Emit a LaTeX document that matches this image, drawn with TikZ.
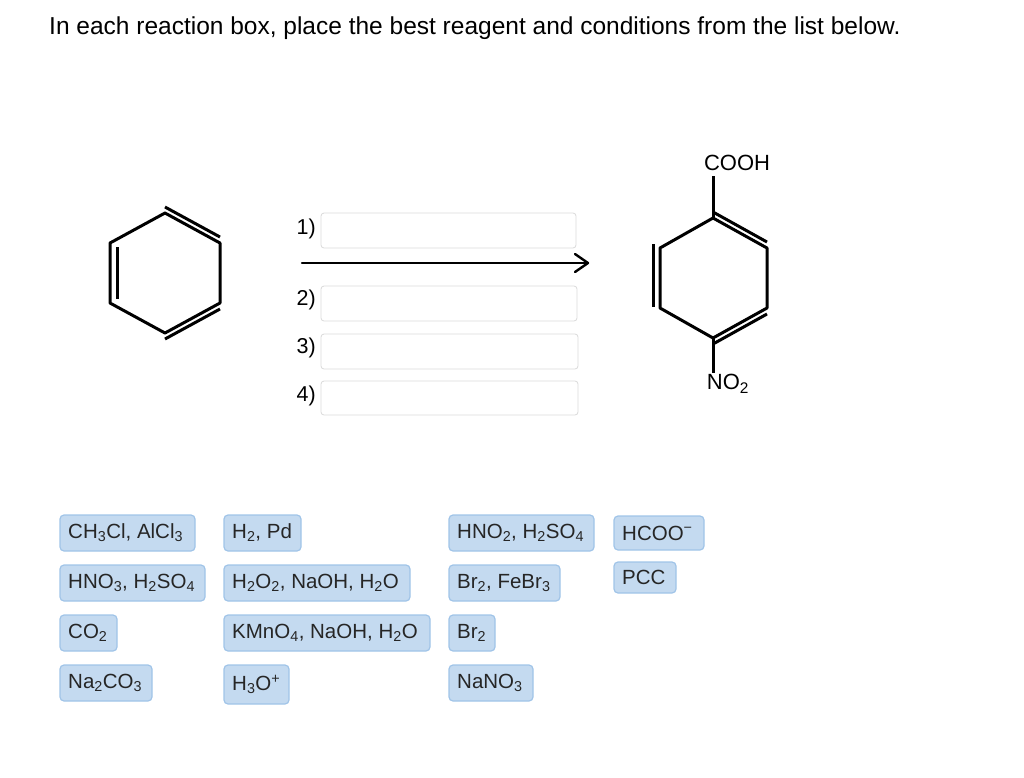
\documentclass[tikz,border=0pt]{standalone}
\usepackage{fontspec}
\setmainfont{Liberation Sans}
\definecolor{tilefill}{RGB}{196,218,240}
\definecolor{tileline}{RGB}{160,196,232}
\newcommand{\mytile}[6]{\draw[tile] (#1,#2) rectangle (#3,#4); \node[tt] (#5) at (#1+8,{(#2+#4)/2}) {#6};}
\begin{document}
\begin{tikzpicture}[x=1pt,y=-1pt,
  bond/.style={line width=3pt},
  ansbox/.style={draw=black!15,rounded corners=3pt,line width=0.8pt},
  tile/.style={draw=tileline,fill=tilefill,rounded corners=4pt,line width=1.2pt},
  tt/.style={anchor=west,font=\fontsize{20.5}{22}\selectfont,inner sep=0pt,text=black!85}]
\useasboundingbox (0,0) rectangle (1024,777);
\node[anchor=west,inner sep=0pt,font=\fontsize{24.5}{27}\selectfont] (title) at (49,28) {In each reaction box, place the best reagent and conditions from the list below.};
% benzene
\foreach \n/\px/\py in {a/165/213,b/220/243,c/220/303,d/165/333,e/110/303,f/110/243} \coordinate (L\n) at (\px,\py);
\draw[bond,line join=round] (La)--(Lb)--(Lc)--(Ld)--(Le)--(Lf)--cycle;
\draw[bond] (165,207) -- (220,237);
\draw[bond] (165,339) -- (220,309);
\draw[bond] (117,247) -- (117,299);
% product
\foreach \n/\px/\py in {a/713/218,b/767/248,c/767/308,d/713/338,e/660/308,f/660/248} \coordinate (R\n) at (\px,\py);
\draw[bond,line join=round] (Ra)--(Rb)--(Rc)--(Rd)--(Re)--(Rf)--cycle;
\draw[bond] (713,212) -- (767,242);
\draw[bond] (713,344) -- (767,314);
\draw[bond] (653,244) -- (653,307);
\node[inner sep=0pt,font=\fontsize{22}{24}\selectfont] (cooh) at (737,163) {COOH};
\node[inner sep=0pt,font=\fontsize{22}{24}\selectfont] (no2) at (728,384) {NO\textsubscript{2}};
\draw[bond] (Ra) -- (713,176);
\draw[bond] (Rd) -- (713,373);
% arrow
\coordinate (as) at (302,263); \coordinate (ae) at (588,263);
\draw[line width=2.4pt,line cap=round] (as)--(ae);
\draw[line width=2.4pt,line cap=round,line join=round] (575,254)--(ae)--(575,272);
\foreach \i/\y in {1/229,2/300,3/348,4/396} \node[anchor=east,inner sep=0pt,font=\fontsize{21.5}{23}\selectfont] (n\i) at (316,\y) {\i)};
\draw[ansbox] (321,213) rectangle (576,248);
\draw[ansbox] (321,286) rectangle (577,321);
\draw[ansbox] (321,334) rectangle (578,369);
\draw[ansbox] (321,381) rectangle (578,415);
% tiles
\mytile{60}{515}{195}{551}{t1}{CH\textsubscript{3}Cl, AlCl\textsubscript{3}}
\mytile{224}{515}{301}{551}{t2}{H\textsubscript{2}, Pd}
\mytile{449}{515}{594}{551}{t3}{HNO\textsubscript{2}, H\textsubscript{2}SO\textsubscript{4}}
\mytile{614}{516}{704}{550}{t4}{HCOO\textsuperscript{−}}
\mytile{60}{565}{205}{601}{t5}{HNO\textsubscript{3}, H\textsubscript{2}SO\textsubscript{4}}
\mytile{224}{565}{410}{601}{t6}{H\textsubscript{2}O\textsubscript{2}, NaOH, H\textsubscript{2}O}
\mytile{449}{565}{560}{601}{t7}{Br\textsubscript{2}, FeBr\textsubscript{3}}
\mytile{614}{562}{676}{593}{t8}{PCC}
\mytile{60}{615}{117}{651}{t9}{CO\textsubscript{2}}
\mytile{224}{615}{430}{651}{t10}{KMnO\textsubscript{4}, NaOH, H\textsubscript{2}O}
\mytile{449}{615}{495}{651}{t11}{Br\textsubscript{2}}
\mytile{60}{665}{152}{701}{t12}{Na\textsubscript{2}CO\textsubscript{3}}
\mytile{224}{665}{289}{704}{t13}{H\textsubscript{3}O\textsuperscript{+}}
\mytile{449}{665}{533}{701}{t14}{NaNO\textsubscript{3}}
\end{tikzpicture}
\end{document}
